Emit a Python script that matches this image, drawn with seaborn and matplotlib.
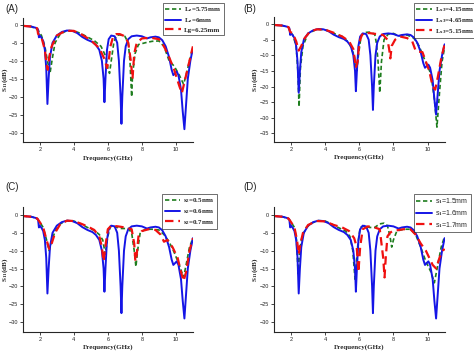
import matplotlib
matplotlib.use("Agg")
import matplotlib.pyplot as plt
import seaborn as sns

# reference design (solid blue, same in all four panels)
freq_ref = [1.0, 1.5, 1.8, 1.9, 1.95, 2.0, 2.1, 2.2, 2.3, 2.38, 2.45, 2.52, 2.6, 2.75, 3.0,
            3.3, 3.6, 3.9, 4.2, 4.5, 4.8, 5.1, 5.3, 5.5, 5.65, 5.75, 5.8, 5.86, 5.95, 6.05,
            6.2, 6.4, 6.55, 6.65, 6.75, 6.8, 6.85, 6.95, 7.05, 7.2, 7.4, 7.7, 8.0, 8.3, 8.5,
            8.8, 9.0, 9.2, 9.4, 9.6, 9.75, 9.85, 9.95, 10.05, 10.15, 10.3, 10.4, 10.5, 10.6, 10.7,
            10.85, 11.0]
s11_ref = [-0.3, -0.5, -0.9, -1.3, -3.5, -3.0, -3.6, -4.5, -7.0, -12.0, -22.0, -15.0, -9.0, -5.0, -3.0,
           -2.0, -1.6, -1.7, -2.3, -3.4, -4.2, -4.8, -5.6, -7.0, -10.0, -15.0, -21.5, -15.0, -7.0, -4.0,
           -3.0, -3.2, -5.0, -10.0, -20.0, -27.5, -20.0, -10.0, -6.0, -4.0, -3.2, -3.0, -3.2, -3.8, -3.5,
           -3.3, -3.5, -4.3, -6.0, -9.0, -12.5, -14.0, -13.5, -13.0, -14.0, -18.0, -24.0, -29.0, -22.0, -15.0,
           -10.0, -6.5]

# (A) Lz sweep
freq_a_lo = [1.0, 1.5, 1.9, 2.1, 2.3, 2.45, 2.6, 2.75, 2.9, 3.2, 3.6, 4.0, 4.4, 4.8, 5.2,
             5.6, 5.9, 6.0, 6.1, 6.2, 6.35, 6.5, 6.7, 7.0, 7.2, 7.3, 7.4, 7.45, 7.6, 7.8,
             8.2, 8.6, 9.0, 9.3, 9.6, 9.9, 10.2, 10.45, 10.6, 10.8, 11.0]
s11_a_lo = [-0.3, -0.5, -1.5, -3.0, -6.0, -10.0, -13.5, -9.0, -5.0, -2.6, -1.6, -1.7, -2.4, -3.4, -4.4,
            -6.0, -9.0, -12.0, -13.5, -10.0, -5.0, -3.0, -2.8, -3.2, -5.0, -10.0, -20.0, -14.0, -8.0, -5.5,
            -5.0, -4.6, -4.5, -6.0, -10.0, -11.5, -14.0, -16.5, -14.0, -10.0, -6.5]
freq_a_hi = [1.0, 1.5, 1.85, 1.9, 2.1, 2.3, 2.4, 2.47, 2.55, 2.7, 3.0, 3.5, 4.0, 4.5, 5.0,
             5.5, 5.8, 5.95, 6.05, 6.15, 6.3, 6.5, 6.7, 7.0, 7.2, 7.35, 7.45, 7.55, 7.7, 8.0,
             8.5, 9.0, 9.3, 9.6, 9.9, 10.2, 10.35, 10.5, 10.7, 11.0]
s11_a_hi = [-0.3, -0.5, -1.0, -2.5, -3.5, -7.0, -11.0, -12.5, -9.0, -6.0, -3.0, -1.7, -1.7, -2.8, -4.3,
            -6.5, -9.5, -12.0, -10.0, -6.0, -3.5, -2.6, -2.6, -3.2, -5.0, -10.0, -15.0, -8.0, -5.0, -3.8,
            -3.6, -4.0, -6.0, -9.0, -12.5, -17.0, -19.0, -16.0, -12.0, -6.0]

# (B) Lx3 sweep
freq_b_lo = [1.0, 1.5, 1.85, 1.95, 2.1, 2.3, 2.4, 2.47, 2.55, 2.7, 3.0, 3.5, 4.0, 4.5, 5.0,
             5.4, 5.7, 5.85, 5.95, 6.1, 6.3, 6.6, 6.9, 7.0, 7.1, 7.2, 7.3, 7.45, 7.7, 8.0,
             8.3, 8.8, 9.2, 9.5, 9.8, 10.0, 10.2, 10.4, 10.55, 10.7, 10.85, 11.0]
s11_b_lo = [-0.3, -0.5, -1.0, -2.5, -3.5, -7.0, -15.0, -26.5, -14.0, -7.0, -3.0, -1.7, -1.8, -3.0, -4.0,
            -6.0, -10.0, -15.0, -10.0, -4.0, -2.7, -2.6, -3.2, -6.0, -12.0, -22.0, -12.0, -5.0, -3.2, -3.0,
            -3.8, -3.5, -4.5, -7.0, -11.0, -13.5, -16.0, -24.0, -33.0, -22.0, -12.0, -7.5]
freq_b_hi = [1.0, 1.5, 1.85, 1.95, 2.1, 2.3, 2.45, 2.6, 2.8, 3.1, 3.5, 4.0, 4.5, 5.0, 5.4,
             5.65, 5.8, 5.9, 6.0, 6.15, 6.3, 6.6, 7.0, 7.4, 7.65, 7.75, 7.82, 7.9, 8.1, 8.4,
             8.8, 9.1, 9.3, 9.45, 9.7, 9.9, 10.1, 10.3, 10.45, 10.6, 10.8, 11.0]
s11_b_hi = [-0.3, -0.5, -1.0, -2.5, -3.0, -5.5, -8.5, -7.0, -4.5, -2.5, -1.7, -1.8, -2.8, -4.0, -5.5,
            -8.0, -14.0, -12.0, -6.0, -3.5, -2.8, -2.9, -3.2, -3.5, -5.0, -8.0, -11.0, -7.0, -5.0, -4.0,
            -4.5, -5.5, -8.5, -8.8, -9.0, -12.0, -15.0, -20.0, -21.0, -17.0, -11.0, -6.5]

# (C) s2 sweep
freq_c_lo = [1.0, 1.5, 1.85, 2.0, 2.2, 2.4, 2.55, 2.7, 2.9, 3.2, 3.6, 4.0, 4.4, 4.8, 5.2,
             5.5, 5.7, 5.85, 6.0, 6.15, 6.4, 6.8, 7.2, 7.4, 7.55, 7.65, 7.75, 7.9, 8.2, 8.6,
             9.0, 9.3, 9.6, 9.9, 10.2, 10.45, 10.6, 10.8, 11.0]
s11_c_lo = [-0.3, -0.5, -1.0, -2.0, -3.5, -7.0, -10.0, -7.5, -4.5, -2.5, -1.6, -1.7, -2.5, -3.5, -4.3,
            -5.5, -7.0, -11.0, -6.0, -3.2, -3.3, -3.8, -3.8, -5.0, -10.0, -14.5, -10.0, -5.0, -4.0, -4.0,
            -4.2, -5.5, -7.5, -10.5, -14.0, -17.5, -14.0, -9.0, -6.5]
freq_c_hi = [1.0, 1.5, 1.85, 2.0, 2.2, 2.4, 2.55, 2.7, 2.9, 3.2, 3.6, 4.0, 4.4, 4.8, 5.2,
             5.5, 5.65, 5.75, 5.85, 6.0, 6.2, 6.6, 7.0, 7.4, 7.55, 7.62, 7.7, 7.8, 8.0, 8.4,
             8.8, 9.1, 9.3, 9.5, 9.8, 10.1, 10.3, 10.45, 10.6, 10.8, 11.0]
s11_c_hi = [-0.3, -0.5, -1.0, -2.0, -3.5, -7.0, -9.5, -8.0, -5.0, -2.6, -1.6, -1.7, -2.4, -3.2, -4.2,
            -6.0, -9.0, -13.0, -9.0, -4.0, -3.0, -3.2, -3.5, -4.0, -8.0, -13.0, -11.0, -6.0, -4.5, -4.0,
            -4.2, -5.5, -7.5, -7.0, -9.0, -12.0, -16.0, -18.5, -16.0, -10.0, -6.5]

# (D) s1 sweep
freq_d_lo = [1.0, 1.5, 1.85, 2.0, 2.2, 2.32, 2.42, 2.5, 2.65, 2.9, 3.2, 3.6, 4.0, 4.4, 4.8,
             5.2, 5.45, 5.62, 5.75, 5.9, 6.05, 6.3, 6.6, 6.9, 7.2, 7.45, 7.65, 7.8, 7.9, 8.0,
             8.2, 8.6, 9.0, 9.3, 9.6, 9.9, 10.2, 10.4, 10.6, 10.8, 11.0]
s11_d_lo = [-0.3, -0.5, -1.0, -2.0, -3.5, -7.0, -16.5, -10.0, -6.0, -3.5, -2.3, -1.6, -1.7, -2.6, -3.6,
            -4.5, -6.0, -10.0, -18.0, -9.0, -3.5, -3.0, -3.5, -3.5, -2.5, -2.3, -3.0, -6.0, -9.0, -7.0,
            -4.5, -4.0, -4.0, -5.5, -9.0, -13.0, -16.0, -19.0, -14.0, -9.0, -6.0]
freq_d_hi = [1.0, 1.5, 1.85, 2.0, 2.2, 2.35, 2.45, 2.55, 2.7, 3.0, 3.5, 4.0, 4.5, 5.0, 5.4,
             5.7, 5.85, 5.95, 6.05, 6.2, 6.5, 6.9, 7.2, 7.3, 7.4, 7.48, 7.55, 7.65, 7.8, 7.95,
             8.2, 8.6, 9.0, 9.3, 9.6, 9.9, 10.1, 10.3, 10.5, 10.7, 10.9, 11.0]
s11_d_hi = [-0.3, -0.5, -1.0, -2.0, -3.5, -7.0, -11.0, -8.0, -5.0, -2.8, -1.7, -1.8, -2.8, -3.5, -4.5,
            -6.5, -9.0, -16.0, -9.0, -4.0, -3.2, -3.5, -4.0, -8.0, -12.0, -17.5, -12.0, -6.0, -5.0, -4.5,
            -4.3, -4.0, -4.0, -5.5, -8.0, -10.0, -12.0, -14.0, -15.0, -12.0, -10.0, -9.5]

labels_a = [r"L$_{\rm z}$=5.75mm", r"L$_{\rm z}$=6mm", "Lg=6.25mm"]
labels_b = [r"L$_{\rm x3}$=4.15mm", r"L$_{\rm x3}$=4.65mm", r"L$_{\rm x3}$=5.15mm"]
labels_c = [r"s$_{\rm 2}$=0.5mm", r"s$_{\rm 2}$=0.6mm", r"s$_{\rm 2}$=0.7mm"]
labels_d = [r"s$_{\rm 1}$=1.5mm", r"s$_{\rm 1}$=1.6mm", r"s$_{\rm 1}$=1.7mm"]

sns.set_style("ticks")
plt.rcParams["font.family"] = ["Liberation Sans", "DejaVu Sans"]
plt.rcParams["mathtext.fontset"] = "custom"
plt.rcParams["mathtext.rm"] = "Liberation Serif:bold"
plt.rcParams["mathtext.it"] = "Liberation Serif:bold"

fig = plt.figure(figsize=(4.74, 3.51), dpi=100)

green = "#1e7d1e"
blue = "#1515e6"
red = "#f01010"

panels = [
    ("(A)", [0.048, 0.595, 0.359, 0.354], (-32.6, 1.9), labels_a,
     (freq_a_lo, s11_a_lo), (freq_a_hi, s11_a_hi), (0.344, 0.991), "serif", (0.011, 0.99), 0.021),
    ("(B)", [0.578, 0.596, 0.360, 0.356], (-37.7, 2.3), labels_b,
     (freq_b_lo, s11_b_lo), (freq_b_hi, s11_b_hi), (0.873, 0.991), "serif", (0.513, 0.99), 0.549),
    ("(C)", [0.048, 0.055, 0.359, 0.356], (-32.7, 2.3), labels_c,
     (freq_c_lo, s11_c_lo), (freq_c_hi, s11_c_hi), (0.342, 0.447), "serif", (0.011, 0.481), 0.021),
    ("(D)", [0.578, 0.055, 0.360, 0.356], (-32.7, 2.3), labels_d,
     (freq_d_lo, s11_d_lo), (freq_d_hi, s11_d_hi), (0.873, 0.447), "sans", (0.513, 0.481), 0.549),
]

for tag, rect, ylim, labels, lo, hi, leg_pos, leg_font, tag_pos, ylab_x in panels:
    ax = fig.add_axes(rect)
    sns.lineplot(x=lo[0], y=lo[1], ax=ax, color=green, lw=1.2, dashes=(2.6, 1.6), label=labels[0])
    sns.lineplot(x=freq_ref, y=s11_ref, ax=ax, color=blue, lw=1.4, label=labels[1])
    sns.lineplot(x=hi[0], y=hi[1], ax=ax, color=red, lw=1.6, dashes=(3.8, 2.2), label=labels[2])

    ax.set_xlim(1, 11)
    ax.set_ylim(*ylim)
    ax.set_xticks([2, 4, 6, 8, 10])
    ax.set_yticks(list(range(int(ylim[0] // 5 + 1) * 5, 1, 5)))
    ax.tick_params(labelsize=4, length=2, width=0.6, pad=1.5)
    for s in ["left", "bottom"]:
        ax.spines[s].set_linewidth(0.8)
    sns.despine(ax=ax)
    ax.set_xlabel("Frequency(GHz)", fontsize=5, family="Liberation Serif", weight="bold", labelpad=2)
    ax.set_ylabel(r"S$_{\rm 11}$(dB)", fontsize=5.2, family="Liberation Serif", weight="bold")
    ax.yaxis.set_label_coords(ylab_x, rect[1] + rect[3] / 2, transform=fig.transFigure)

    if leg_font == "serif":
        prop = {"family": "Liberation Serif", "weight": "bold", "size": 5}
    else:
        prop = {"family": "Liberation Sans", "size": 5}
    leg = ax.legend(loc="upper left", bbox_to_anchor=leg_pos, bbox_transform=fig.transFigure,
                    prop=prop, frameon=True, fancybox=False, edgecolor="black",
                    handlelength=2.2, handletextpad=0.5, labelspacing=0.25, borderpad=0.35,
                    borderaxespad=0)
    leg.get_frame().set_linewidth(0.5)

    fig.text(tag_pos[0], tag_pos[1], tag, fontsize=7, va="top", ha="left")

fig.savefig("out.png", dpi=100)
